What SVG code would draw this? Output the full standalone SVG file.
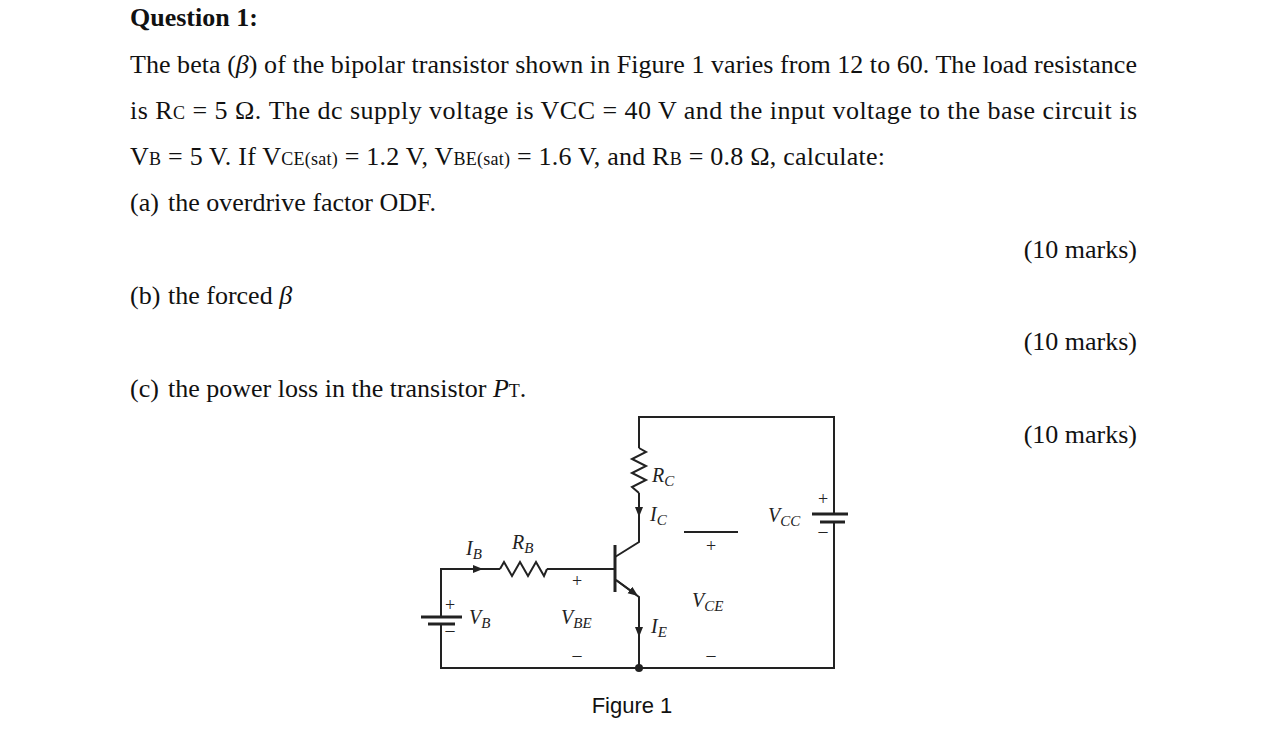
<svg xmlns="http://www.w3.org/2000/svg" width="1284" height="733" viewBox="0 0 1284 733">
<style>
.t{font-family:"Liberation Serif",serif;font-size:26px;fill:#111}
.s{font-size:18px}
.l{font-family:"Liberation Serif",serif;font-size:20px;font-style:italic;fill:#222}
.ls{font-size:15px}
.p{font-family:"Liberation Serif",serif;font-size:18px;fill:#222}
.w{stroke:#222;stroke-width:2;fill:none}
</style>
<defs><marker id="a" viewBox="0 0 10 10" refX="5" refY="5" markerWidth="10" markerHeight="10" markerUnits="userSpaceOnUse" orient="auto"><path d="M0,1 L10,5 L0,9 z" fill="#222"/></marker></defs>
<rect width="1284" height="733" fill="#fff"/>
<g id="text">
<text class="t" x="130" y="26" font-weight="bold">Question 1:</text>
<text class="t" x="130" y="73" textLength="1007" lengthAdjust="spacing">The beta (<tspan font-style="italic">β</tspan>) of the bipolar transistor shown in Figure 1 varies from 12 to 60. The load resistance</text>
<text class="t" x="130" y="119" textLength="1007" lengthAdjust="spacing">is R<tspan class="s">C</tspan> = 5 Ω. The dc supply voltage is VCC = 40 V and the input voltage to the base circuit is</text>
<text class="t" x="130" y="165" textLength="755" lengthAdjust="spacing">V<tspan class="s">B</tspan> = 5 V. If V<tspan class="s">CE(sat)</tspan> = 1.2 V, V<tspan class="s">BE(sat)</tspan> = 1.6 V, and R<tspan class="s">B</tspan> = 0.8 Ω, calculate:</text>
<text class="t" x="130" y="211">(a)<tspan x="168">the overdrive factor ODF.</tspan></text>
<text class="t" x="1137" y="258" text-anchor="end">(10 marks)</text>
<text class="t" x="130" y="304">(b)<tspan x="168">the forced </tspan><tspan font-style="italic">β</tspan></text>
<text class="t" x="1137" y="350" text-anchor="end">(10 marks)</text>
<text class="t" x="130" y="397">(c)<tspan x="168">the power loss in the transistor </tspan><tspan font-style="italic">P</tspan><tspan class="s">T</tspan>.</text>
<text class="t" x="1137" y="443" text-anchor="end">(10 marks)</text>
<text x="632" y="713" text-anchor="middle" font-family="Liberation Sans,sans-serif" font-size="22" fill="#111">Figure 1</text>
</g>
<g id="connectors">
<path class="w" d="M639,448 V417 H834 V514 M834,522 V668 H441 V624 M441,617 V569 H500 M547,569 H615"/>
<path class="w" d="M441,569 H478" marker-end="url(#a)"/>
<path class="w" d="M639,493 V512" marker-end="url(#a)"/>
<path class="w" d="M639,510 V542 L615,557"/>
<path class="w" d="M616,580 L639,597 V668"/>
<path class="w" d="M616,580 L634,593" marker-end="url(#a)"/>
<path class="w" d="M639,600 V632" marker-end="url(#a)"/>
<path class="w" d="M684,532 H738"/>
</g>
<g id="RC"><path class="w" d="M639,448 L646,452 L632,459 L646,466 L632,473 L646,480 L632,487 L639,493"/></g>
<g id="RB"><path class="w" d="M500,569 L504,562 L512,576 L520,562 L528,576 L536,562 L544,576 L547,569"/></g>
<g id="Q"><path d="M615,545 V592" stroke="#222" stroke-width="3"/></g>
<circle cx="639" cy="668" r="4" fill="#222"/>
<g id="VB"><path d="M421,617 H462" stroke="#222" stroke-width="3"/><path d="M428,624 H455" stroke="#222" stroke-width="3"/></g>
<g id="VCC"><path d="M812,514 H848" stroke="#222" stroke-width="3"/><path d="M820,522 H845" stroke="#222" stroke-width="3"/></g>
<g id="labels">
<text class="l" x="652" y="482">R<tspan class="ls" dy="4">C</tspan></text>
<text class="l" x="650" y="521">I<tspan class="ls" dy="4">C</tspan></text>
<text class="l" x="768" y="522">V<tspan class="ls" dy="4">CC</tspan></text>
<text class="l" x="466" y="555">I<tspan class="ls" dy="4">B</tspan></text>
<text class="l" x="512" y="549">R<tspan class="ls" dy="4">B</tspan></text>
<text class="l" x="469" y="624">V<tspan class="ls" dy="4">B</tspan></text>
<text class="l" x="561" y="624">V<tspan class="ls" dy="4">BE</tspan></text>
<text class="l" x="651" y="633">I<tspan class="ls" dy="4">E</tspan></text>
<text class="l" x="692" y="607">V<tspan class="ls" dy="4">CE</tspan></text>
<text class="p" x="711" y="552" text-anchor="middle">+</text>
<text class="p" x="577" y="587" text-anchor="middle">+</text>
<text class="p" x="577" y="661" text-anchor="middle">–</text>
<text class="p" x="711" y="661" text-anchor="middle">–</text>
<text class="p" x="450" y="611" text-anchor="middle">+</text>
<text class="p" x="450" y="636" text-anchor="middle">–</text>
<text class="p" x="823" y="505" text-anchor="middle">+</text>
<text class="p" x="823" y="537" text-anchor="middle">–</text>
</g>
</svg>
